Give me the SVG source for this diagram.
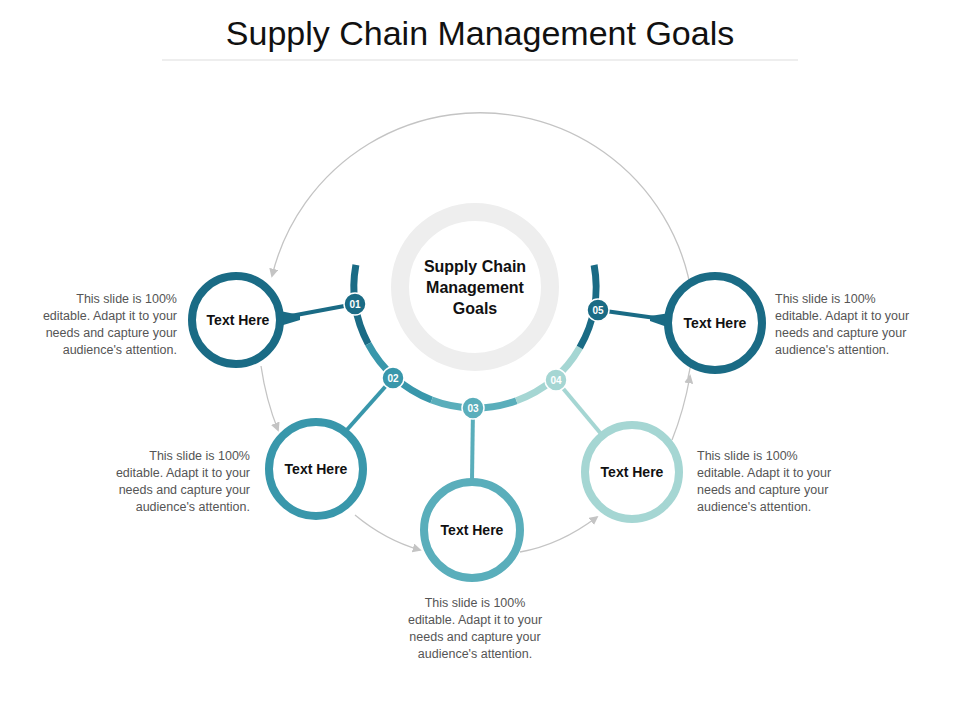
<svg xmlns="http://www.w3.org/2000/svg" width="960" height="720" viewBox="0 0 960 720">
<defs>
<style>
text{font-family:"Liberation Sans",Arial,sans-serif}
.t{font-size:34px;fill:#111}
.lb{font-size:14px;font-weight:bold;fill:#111;text-anchor:middle}
.d{font-size:12.5px;fill:#555}
.n{font-size:10px;font-weight:bold;fill:#fff;text-anchor:middle}
.g{fill:none;stroke:#c4c4c4;stroke-width:1.3}
</style>
<marker id="ah" viewBox="0 0 10 10" refX="8" refY="5" markerWidth="7" markerHeight="7" orient="auto"><path d="M0,0L10,5L0,10z" fill="#c4c4c4"/></marker>
</defs>
<rect width="960" height="720" fill="#fff"/>
<text class="t" x="480" y="45" text-anchor="middle">Supply Chain Management Goals</text>
<line x1="162" y1="60" x2="798" y2="60" stroke="#ddd"/>
<g id="connectors">
<path class="g" d="M688,378 A214,214 0 1 0 272,276" marker-end="url(#ah)"/>
<path class="g" d="M261,366 Q266,400 278,430" marker-end="url(#ah)"/>
<path class="g" d="M355,515 Q385,540 420,550" marker-end="url(#ah)"/>
<path class="g" d="M520,552 Q560,545 597,517" marker-end="url(#ah)"/>
<path class="g" d="M672,440 Q684,410 690,376" marker-end="url(#ah)"/>
</g>
<g id="center">
<circle cx="475" cy="287" r="75" fill="none" stroke="#eeeeee" stroke-width="18"/>
<circle cx="475" cy="287" r="64" fill="#fff"/>
<text class="lb" style="font-size:16px" x="475" y="272">Supply Chain</text>
<text class="lb" style="font-size:16px" x="475" y="293">Management</text>
<text class="lb" style="font-size:16px" x="475" y="314">Goals</text>
</g>
<g id="ring" fill="none" stroke-width="7">
<path d="M355.9,264.9 A121,121 0 0 0 368.2,343.8" stroke="#1a6b85"/>
<path d="M368.2,343.8 A121,121 0 0 0 431.7,400" stroke="#3997ab"/>
<path d="M431.7,400 A121,121 0 0 0 516.4,400.7" stroke="#5aaebb"/>
<path d="M516.4,400.7 A121,121 0 0 0 579.8,347.5" stroke="#a5d6d3"/>
<path d="M579.8,347.5 A121,121 0 0 0 594.1,265" stroke="#1a6b85"/>
</g>
<g id="n1">
<line x1="355" y1="304" x2="280" y2="318" stroke="#1a6b85" stroke-width="4"/>
<path d="M280,311 L300,315 L300,320 L280,326z" fill="#1a6b85"/>
<circle cx="236" cy="320" r="44" fill="#fff" stroke="#1a6b85" stroke-width="8"/>
<text class="lb" x="238" y="325">Text Here</text>
<circle cx="355" cy="304" r="11" fill="#1a6b85" stroke="#fff" stroke-width="1.5"/>
<text class="n" x="355" y="308">01</text>
<text class="d" text-anchor="end"><tspan x="177" y="303">This slide is 100%</tspan><tspan x="177" y="320">editable. Adapt it to your</tspan><tspan x="177" y="337">needs and capture your</tspan><tspan x="177" y="354">audience's attention.</tspan></text>
</g>
<g id="n2">
<line x1="393" y1="378" x2="345" y2="432" stroke="#3997ab" stroke-width="4"/>
<circle cx="316" cy="469" r="47" fill="#fff" stroke="#3997ab" stroke-width="8"/>
<text class="lb" x="316" y="474">Text Here</text>
<circle cx="393" cy="378" r="11" fill="#3997ab" stroke="#fff" stroke-width="1.5"/>
<text class="n" x="393" y="382">02</text>
<text class="d" text-anchor="end"><tspan x="250" y="460">This slide is 100%</tspan><tspan x="250" y="477">editable. Adapt it to your</tspan><tspan x="250" y="494">needs and capture your</tspan><tspan x="250" y="511">audience's attention.</tspan></text>
</g>
<g id="n3">
<line x1="473" y1="408" x2="472" y2="480" stroke="#5aaebb" stroke-width="4"/>
<circle cx="472" cy="530" r="48" fill="#fff" stroke="#5aaebb" stroke-width="8"/>
<text class="lb" x="472" y="535">Text Here</text>
<circle cx="473" cy="408" r="11" fill="#5aaebb" stroke="#fff" stroke-width="1.5"/>
<text class="n" x="473" y="412">03</text>
<text class="d" text-anchor="middle"><tspan x="475" y="607">This slide is 100%</tspan><tspan x="475" y="624">editable. Adapt it to your</tspan><tspan x="475" y="641">needs and capture your</tspan><tspan x="475" y="658">audience's attention.</tspan></text>
</g>
<g id="n4">
<line x1="556" y1="380" x2="602" y2="435" stroke="#a5d6d3" stroke-width="4"/>
<circle cx="632" cy="472" r="47" fill="#fff" stroke="#a5d6d3" stroke-width="8"/>
<text class="lb" x="632" y="477">Text Here</text>
<circle cx="556" cy="380" r="11" fill="#a5d6d3" stroke="#fff" stroke-width="1.5"/>
<text class="n" x="556" y="384">04</text>
<text class="d"><tspan x="697" y="460">This slide is 100%</tspan><tspan x="697" y="477">editable. Adapt it to your</tspan><tspan x="697" y="494">needs and capture your</tspan><tspan x="697" y="511">audience's attention.</tspan></text>
</g>
<g id="n5">
<line x1="598" y1="310" x2="670" y2="320" stroke="#1a6b85" stroke-width="4"/>
<path d="M670,313 L650,316 L650,321 L670,328z" fill="#1a6b85"/>
<circle cx="715" cy="323" r="47" fill="#fff" stroke="#1a6b85" stroke-width="8"/>
<text class="lb" x="715" y="328">Text Here</text>
<circle cx="598" cy="310" r="11" fill="#1a6b85" stroke="#fff" stroke-width="1.5"/>
<text class="n" x="598" y="314">05</text>
<text class="d"><tspan x="775" y="303">This slide is 100%</tspan><tspan x="775" y="320">editable. Adapt it to your</tspan><tspan x="775" y="337">needs and capture your</tspan><tspan x="775" y="354">audience's attention.</tspan></text>
</g>
</svg>
